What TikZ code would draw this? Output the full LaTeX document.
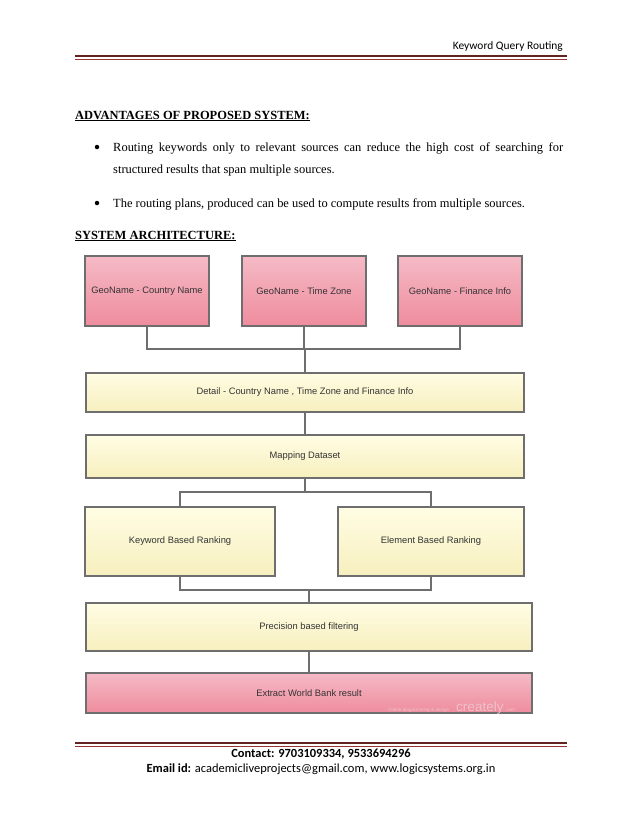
\documentclass[tikz,border=0pt]{standalone}
\usepackage{fontspec}
\setmainfont{Liberation Serif}
\newfontfamily\carlito{Carlito}
\newfontfamily\arialfont{Liberation Sans}
\usetikzlibrary{positioning, calc}
\definecolor{hdrmaroon}{HTML}{622423}
\definecolor{hdrred}{HTML}{943634}
\definecolor{boxgray}{HTML}{6E6E6E}
\definecolor{pinktop}{HTML}{F5BAC6}
\definecolor{pinkbot}{HTML}{EF8C9D}
\definecolor{yeltop}{HTML}{FFFDE4}
\definecolor{yelbot}{HTML}{F7EFBE}
\definecolor{boxtext}{HTML}{333333}
\definecolor{wmark}{HTML}{EDC3CB}
\newlength\pxl
\setlength\pxl{0.03384cm}

\begin{document}
\begin{tikzpicture}[
  x=0.03384cm, y=-0.03384cm,
  every node/.style={text=black, font=\fontsize{12}{14}\selectfont},
  pinkbox/.style={draw=boxgray, line width=1.2pt, top color=pinktop, bottom color=pinkbot,
    text=boxtext, font=\arialfont\fontsize{9}{11}\selectfont, inner sep=0pt},
  yellowbox/.style={draw=boxgray, line width=1.2pt, top color=yeltop, bottom color=yelbot,
    text=boxtext, font=\arialfont\fontsize{9}{11}\selectfont, inner sep=0pt},
  link/.style={draw=boxgray, line width=1.2pt},
  bulletdot/.style={circle, fill=black, inner sep=0pt, minimum size=4.5\pxl},
  bodyline/.style={anchor=base west, inner sep=0pt},
]

% Page
\fill[white] (0,0) rectangle (638,826);
\useasboundingbox (0,0) rectangle (638,826);

% Header
\node[anchor=base east, inner sep=0pt, font=\carlito\fontsize{11}{13}\selectfont] (hdr) at (563,49) {Keyword Query Routing};
\draw[hdrmaroon, line width=2.8pt] (75,56) -- (567,56);
\draw[hdrred, line width=0.7pt] (75,58.9) -- (567,58.9);

% --- Advantages ---
\node[bodyline, font=\bfseries\fontsize{12}{14}\selectfont] (adv) at (75,119) {\underline{ADVANTAGES OF PROPOSED SYSTEM:}};

\node[bulletdot] (bul1) at (97,147) {};
\node[bodyline] (adv1a) at (113,151) {\makebox[450\pxl][s]{Routing keywords only to relevant sources can reduce the high cost of searching for}};
\node[bodyline] (adv1b) at (113,173) {structured results that span multiple sources.};

\node[bulletdot] (bul2) at (97,203) {};
\node[bodyline] (adv2) at (113,207) {The routing plans, produced can be used to compute results from multiple sources.};

% --- Architecture ---
\node[bodyline, font=\bfseries\fontsize{12}{14}\selectfont] (arch) at (75,239) {\underline{SYSTEM ARCHITECTURE:}};

% Sources
\node[pinkbox, minimum width=124\pxl, minimum height=70\pxl] (geo1) at (147,291) {GeoName - Country Name};
\node[pinkbox, minimum width=124\pxl, minimum height=70\pxl] (geo2) at (304,291) {GeoName - Time Zone};
\node[pinkbox, minimum width=124\pxl, minimum height=70\pxl] (geo3) at (460,291) {GeoName - Finance Info};

% Detail and mapping
\node[yellowbox, minimum width=438\pxl, minimum height=39\pxl] (detail) at (305,392.5) {Detail - Country Name , Time Zone and Finance Info};
\node[yellowbox, minimum width=438\pxl, minimum height=43\pxl] (mapping) at (305,456.5) {Mapping Dataset};

% Ranking
\node[yellowbox, minimum width=190\pxl, minimum height=69\pxl] (kwrank) at (180,541.5) {Keyword Based Ranking};
\node[yellowbox, minimum width=186\pxl, minimum height=69\pxl] (elrank) at (431,541.5) {Element Based Ranking};

% Filtering and result
\node[yellowbox, minimum width=446\pxl, minimum height=48\pxl] (precision) at (309,627) {Precision based filtering};
\node[pinkbox, minimum width=446\pxl, minimum height=40\pxl] (extract) at (309,693) {Extract World Bank result};

% Connections
\coordinate (join1) at (305,349);
\coordinate (join2) at (305,492);
\coordinate (join3) at (309,590);
\draw[link] (geo1.south) |- (join1) -| (geo3.south);
\draw[link] (geo2.south) -- (geo2.south |- join1);
\draw[link] (join1) -- (detail.north);
\draw[link] (detail) -- (mapping);
\draw[link] (mapping.south) -- (join2);
\draw[link] (kwrank.north) |- (join2) -| (elrank.north);
\draw[link] (kwrank.south) |- (join3) -| (elrank.south);
\draw[link] (join3) -- (precision.north);
\draw[link] (precision) -- (extract);

% Watermark
\node[anchor=base east, text=wmark, font=\arialfont\fontsize{4.5}{5}\selectfont] (wm1) at (453,711) {Online diagramming \& design};
\node[anchor=base west, text=wmark, font=\arialfont\fontsize{13}{14}\selectfont, inner sep=1pt] (wm2) at (455,711) {creately};
\node[anchor=base west, text=wmark, font=\arialfont\fontsize{4.5}{5}\selectfont, inner sep=0pt] (wm3) at (wm2.base east) {.com};

% Footer
\draw[hdrmaroon, line width=2.8pt] (75,743) -- (567,743);
\draw[hdrred, line width=0.7pt] (75,745.9) -- (567,745.9);
\node[font=\carlito\bfseries\fontsize{12}{14}\selectfont] (contact) at (321,754) {Contact: 9703109334, 9533694296};
\node[font=\carlito\fontsize{12}{14}\selectfont] (email) at (321,769) {\textbf{Email id:} academicliveprojects@gmail.com, www.logicsystems.org.in};

\end{tikzpicture}
\end{document}
